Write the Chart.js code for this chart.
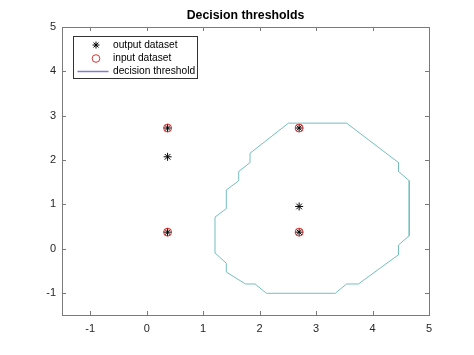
<!DOCTYPE html>
<html><head><meta charset="utf-8">
<script src="https://cdn.jsdelivr.net/npm/chart.js@4/dist/chart.umd.min.js"></script>
<style>html,body{margin:0;padding:0;background:#fff}#wrap{width:474px;height:355px}</style>
</head><body><div id="wrap"><canvas id="c" width="474" height="355"></canvas></div>
<script>
const titleText = "Decision thresholds";
const xTicks = [-1, 0, 1, 2, 3, 4, 5];
const yTicks = [-1, 0, 1, 2, 3, 4, 5];
const outputX = [0.37, 0.37, 0.37, 2.7, 2.7, 2.7];
const outputY = [2.72, 2.07, 0.37, 2.72, 0.95, 0.37];
const inputX = [0.37, 0.37, 2.7, 2.7];
const inputY = [2.72, 0.37, 2.72, 0.37];
const thresholdX = [2.51, 3.54, 4.46, 4.46, 4.65, 4.65, 4.46, 4.46, 3.75, 3.54, 3.34, 2.12, 1.92, 1.75, 1.41, 1.41, 1.21, 1.21, 1.41, 1.41, 1.63, 1.63, 1.83, 1.83, 2.51];
const thresholdY = [2.83, 2.83, 1.94, 1.74, 1.53, 0.29, 0.08, -0.14, -0.80, -0.80, -1.01, -1.01, -0.80, -0.80, -0.53, -0.33, -0.10, 0.71, 0.90, 1.32, 1.53, 1.74, 1.94, 2.15, 2.83];
const legendLabels = ["output dataset", "input dataset", "decision threshold"];

const zip = (xs, ys) => xs.map((x, i) => ({x, y: ys[i]}));
const FONT = "'Liberation Sans', Arial, sans-serif";

const boxPlugin = {
  id: 'boxPlugin',
  afterDraw(chart) {
    const ctx = chart.ctx, a = chart.chartArea;
    const xs = chart.scales.x, ys = chart.scales.y;
    ctx.save();
    ctx.strokeStyle = '#7a7a7a';
    ctx.lineWidth = 1;
    ctx.strokeRect(Math.round(a.left) + 0.5, Math.round(a.top) + 0.5, Math.round(a.right - a.left), Math.round(a.bottom - a.top));
    const tl = 4;
    ctx.beginPath();
    xTicks.forEach(v => {
      const px = Math.round(xs.getPixelForValue(v)) + 0.5;
      ctx.moveTo(px, a.bottom); ctx.lineTo(px, a.bottom - tl);
      ctx.moveTo(px, a.top); ctx.lineTo(px, a.top + tl);
    });
    yTicks.forEach(v => {
      const py = Math.round(ys.getPixelForValue(v)) + 0.5;
      ctx.moveTo(a.left, py); ctx.lineTo(a.left + tl, py);
      ctx.moveTo(a.right, py); ctx.lineTo(a.right - tl, py);
    });
    ctx.stroke();
    // title
    ctx.fillStyle = '#000';
    ctx.font = 'bold 12.3px ' + FONT;
    ctx.textAlign = 'center';
    ctx.textBaseline = 'middle';
    ctx.fillText(titleText, (a.left + a.right) / 2, 16);
    // legend
    const lx = a.left + 11.5, ly = a.top + 9.5, lw = 124, lh = 42;
    ctx.fillStyle = '#fff';
    ctx.fillRect(lx, ly, lw, lh);
    ctx.strokeStyle = '#333';
    ctx.strokeRect(lx, ly, lw, lh);
    ctx.font = '10.2px ' + FONT;
    ctx.textAlign = 'left';
    ctx.fillStyle = '#000';
    const rows = [ly + 8.5, ly + 22, ly + 35];
    const mx = a.left + 34;
    const r = 3.5;
    ctx.strokeStyle = '#000'; ctx.lineWidth = 1;
    ctx.beginPath();
    for (let k = 0; k < 4; k++) {
      const ang = k * Math.PI / 4;
      ctx.moveTo(mx - r * Math.cos(ang), rows[0] - r * Math.sin(ang));
      ctx.lineTo(mx + r * Math.cos(ang), rows[0] + r * Math.sin(ang));
    }
    ctx.stroke();
    ctx.strokeStyle = '#e03030';
    ctx.beginPath(); ctx.arc(mx, rows[1], 3.8, 0, Math.PI * 2); ctx.stroke();
    ctx.strokeStyle = '#7c7cd6'; ctx.lineWidth = 1.5;
    ctx.beginPath(); ctx.moveTo(lx + 4, rows[2]); ctx.lineTo(lx + 35, rows[2]); ctx.stroke();
    legendLabels.forEach((t, i) => ctx.fillText(t, a.left + 51, rows[i]));
    ctx.restore();
  }
};

new Chart(document.getElementById('c'), {
  type: 'scatter',
  data: {
    datasets: [
      { label: legendLabels[2], data: zip(thresholdX, thresholdY), showLine: true, borderColor: '#74bebe', borderWidth: 1, pointRadius: 0, fill: false, tension: 0 },
      { label: legendLabels[1], data: zip(inputX, inputY), pointStyle: 'circle', pointRadius: 4, borderColor: '#e03030', backgroundColor: 'rgba(0,0,0,0)', borderWidth: 1 },
      { label: legendLabels[0], data: zip(outputX, outputY), pointStyle: 'star', pointRadius: 4, borderColor: '#000', backgroundColor: '#000', borderWidth: 1 }
    ]
  },
  options: {
    responsive: false,
    animation: false,
    events: [],
    layout: { padding: { left: 0, top: 27, right: 45, bottom: 0 } },
    plugins: { legend: { display: false }, title: { display: false }, tooltip: { enabled: false } },
    scales: {
      x: {
        type: 'linear', min: -1.5, max: 5,
        afterBuildTicks: s => { s.ticks = xTicks.map(v => ({value: v})); },
        afterFit: s => { s.height = 40; },
        grid: { display: false, drawTicks: false }, border: { display: false },
        ticks: { color: '#262626', font: { size: 11, family: FONT }, padding: 7, maxRotation: 0 }
      },
      y: {
        type: 'linear', min: -1.5, max: 5,
        afterBuildTicks: s => { s.ticks = yTicks.map(v => ({value: v})); },
        afterFit: s => { s.width = 62; },
        grid: { display: false, drawTicks: false }, border: { display: false },
        ticks: { color: '#262626', font: { size: 11, family: FONT }, padding: 6 }
      }
    }
  },
  plugins: [boxPlugin]
});
</script></body></html>
